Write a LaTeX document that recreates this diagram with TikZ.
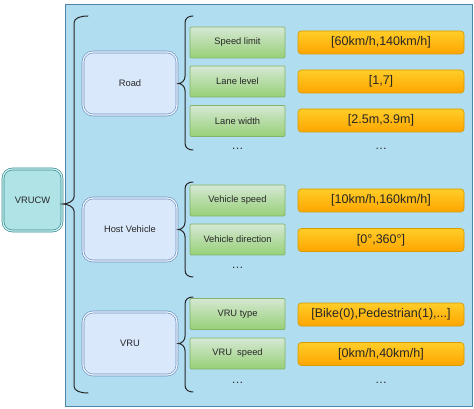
\documentclass[tikz,border=0pt]{standalone}
\usepackage{fontspec}
\setmainfont{Liberation Sans}
\usetikzlibrary{positioning}
\usetikzlibrary{calc}
\definecolor{panelfill}{HTML}{B1DDF0}
\definecolor{panelline}{HTML}{4F86A8}
\definecolor{catfill}{HTML}{DAE8FC}
\definecolor{catline}{HTML}{6C8EBF}
\definecolor{rootfill}{HTML}{B0E3E6}
\definecolor{rootline}{HTML}{2E8A90}
\definecolor{greentop}{HTML}{D5E8D4}
\definecolor{greenbot}{HTML}{97D077}
\definecolor{greenline}{HTML}{82B366}
\definecolor{orangetop}{HTML}{FFCD28}
\definecolor{orangebot}{HTML}{FFA500}
\definecolor{orangeline}{HTML}{D79B00}
% curly bracket: top end, bottom end, tip, arm, reach
\newcommand{\curly}[5]{%
\draw[bracketline] (#1) .. controls +(-0.55*#4,0) and +(0,-5) .. ($(#1)+(-#4,7)$)
 -- ($(#3)+(#5,-7)$) .. controls +(0,4) and +(0.45*#5,0) .. (#3)
 .. controls +(0.45*#5,0) and +(0,-4) .. ($(#3)+(#5,7)$)
 -- ($(#2)+(-#4,-7)$) .. controls +(0,5) and +(-0.55*#4,0) .. (#2);}

\begin{document}
\begin{tikzpicture}[x=0.75pt,y=-0.75pt,
  every node/.style={text=black!85,font=\fontsize{7}{8}\selectfont},
  rootbox/.style={rounded corners=7pt,draw=rootline,double=rootfill!50!white,double distance=0.9pt,line width=0.5pt,fill=rootfill,minimum width=44.25pt,minimum height=46.5pt,inner sep=0pt},
  catbox/.style={rounded corners=7.5pt,draw=catline,double=catfill!40!white,double distance=0.9pt,line width=0.5pt,fill=catfill,minimum width=70.5pt,minimum height=47.25pt,inner sep=0pt},
  itembox/.style={draw=greenline,line width=0.5pt,top color=greentop,bottom color=greenbot,rounded corners=0.8pt,minimum width=71.25pt,minimum height=23.25pt,inner sep=0pt},
  rangebox/.style={draw=orangeline,line width=0.5pt,top color=orangetop,bottom color=orangebot,rounded corners=2.5pt,minimum width=124.5pt,minimum height=17.25pt,inner sep=0pt,font=\fontsize{9.4}{11}\selectfont},
  more/.style={font=\fontsize{9}{10}\selectfont,inner sep=0pt},
  bracketline/.style={line width=0.75pt,draw=black!85,line cap=round}]
\useasboundingbox (0,0) rectangle (474,409);
\draw[fill=panelfill,draw=panelline,line width=0.6pt] (65,4) rectangle (472,406);

% root and categories
\node[rootbox] (vrucw) at (32.5,200) {VRUCW};
\node[catbox] (road) at (130,83.5) {Road};
\node[catbox] (host) at (130,229.5) {Host Vehicle};
\node[catbox] (vru) at (130,343.5) {VRU};

% braces
\coordinate (bigtop) at (88,16);
\coordinate (bigbot) at (88,393);
\coordinate (bigtip) at (63,204);
\curly{bigtop}{bigbot}{bigtip}{14}{11}
\coordinate (roadtop) at (193,16);
\coordinate (roadbot) at (193,150);
\coordinate (roadtip) at (178.5,83.5);
\curly{roadtop}{roadbot}{roadtip}{8}{6.5}
\coordinate (hosttop) at (193,182);
\coordinate (hostbot) at (193,277);
\coordinate (hosttip) at (178.5,229.5);
\curly{hosttop}{hostbot}{hosttip}{8}{6.5}
\coordinate (vrutop) at (193,297);
\coordinate (vrubot) at (193,392);
\coordinate (vrutip) at (178.5,343.5);
\curly{vrutop}{vrubot}{vrutip}{8}{6.5}

% attributes
\node[itembox] (speedlimit) at (237.5,42.5) {Speed limit};
\node[itembox] (lanelevel) at (237.5,81.5) {Lane level};
\node[itembox] (lanewidth) at (237.5,121) {Lane width};
\node[more] (roaddots) at (237.5,149) {…};
\node[itembox] (vehspeed) at (237.5,200.5) {Vehicle speed};
\node[itembox] (vehdir) at (237.5,239.5) {Vehicle direction};
\node[more] (hostdots) at (237.5,268) {…};
\node[itembox] (vrutype) at (237.5,314) {VRU type};
\node[itembox] (vruspeed) at (237.5,353.5) {VRU~~speed};
\node[more] (vrudots) at (237.5,383) {…};

% value ranges
\node[rangebox] (speedlimitval) at (381,42.5) {[60km/h,140km/h]};
\node[rangebox] (lanelevelval) at (381,81.5) {[1,7]};
\node[rangebox] (lanewidthval) at (381,120.5) {[2.5m,3.9m]};
\node[more] (roadvaldots) at (381,149) {…};
\node[rangebox] (vehspeedval) at (381,200.5) {[10km/h,160km/h]};
\node[rangebox] (vehdirval) at (381,240) {[0°,360°]};
\node[rangebox] (vrutypeval) at (381,314.5) {[Bike(0),Pedestrian(1),...]};
\node[rangebox] (vruspeedval) at (381,354) {[0km/h,40km/h]};
\node[more] (vruvaldots) at (381,383) {…};
\end{tikzpicture}
\end{document}
